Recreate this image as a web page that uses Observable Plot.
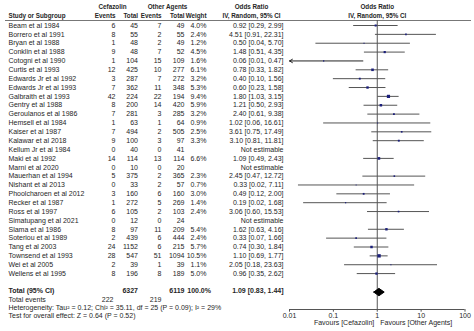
<!DOCTYPE html>
<html>
<head>
<meta charset="utf-8">
<script src="https://cdn.jsdelivr.net/npm/d3@7"></script>
<script src="https://cdn.jsdelivr.net/npm/@observablehq/plot@0.6"></script>
<style>
  html, body { margin: 0; padding: 0; background: #fff; }
  #chart svg { display: block; }
</style>
</head>
<body>
<div id="chart"></div>
<script>
// ---------- data ----------
const studies = ["Beam et al 1984","Borrero et al 1991","Bryan et al 1988","Conklin et al 1988","Cotogni et al 1990","Curtis et al 1993","Edwards Jr et al 1992","Edwards Jr et al 1993","Galbraith et al 1993","Gentry et al 1988","Geroulanos et al 1986","Hemsell et al 1984","Kaiser et al 1987","Kalawar et al 2018","Kellum Jr et al 1984","Maki et al 1992","Marni et al 2020","Mauerhan et al 1994","Nishant et al 2013","Phoolcharoen et al 2012","Recker et al 1987","Ross et al 1997","Simatupang et al 2021","Slama et al 1986","Soteriou et al 1989","Tang et al 2003","Townsend et al 1993","Wei et al 2005","Wellens et al 1995"];
const cefEvents = [6,8,1,9,1,12,3,7,42,8,7,1,7,9,0,14,0,5,0,3,1,6,0,8,2,24,28,2,8];
const cefTotal = [45,55,48,48,104,425,287,362,224,200,281,63,494,100,40,114,10,375,33,160,272,105,12,97,439,1152,547,39,196];
const otherEvents = [7,2,2,7,15,10,7,11,22,14,3,1,2,3,0,13,0,2,2,6,5,2,0,11,6,6,51,1,8];
const otherTotal = [49,55,49,52,109,277,272,348,194,420,285,64,505,97,41,114,20,365,57,160,269,103,24,209,444,215,1094,39,189];
const weights = [4.0,2.4,1.2,4.5,1.6,6.1,3.2,5.3,9.4,5.9,3.2,0.9,2.5,3.3,null,6.6,null,2.3,0.7,3.0,1.4,2.4,null,5.4,2.4,5.7,10.5,1.1,5.0];
const oddsRatio = [0.92,4.51,0.50,1.48,0.06,0.78,0.40,0.60,1.80,1.21,2.40,1.02,3.61,3.10,null,1.09,null,2.45,0.33,0.49,0.19,3.06,null,1.62,0.33,0.74,1.10,2.05,0.96];
const ciLow = [0.29,0.91,0.04,0.51,0.008,0.33,0.10,0.23,1.03,0.50,0.61,0.06,0.75,0.81,null,0.49,null,0.47,0.016,0.12,0.021,0.60,null,0.63,0.07,0.30,0.69,0.18,0.35];
const ciHigh = [2.99,22.31,5.70,4.35,0.47,1.82,1.56,1.58,3.15,2.93,9.38,16.61,17.49,11.81,null,2.43,null,12.72,7.11,2.00,1.68,15.53,null,4.16,1.66,1.84,1.77,23.63,2.62];
const totalLabels = {cefTotal: 6327, otherTotal: 6119, weight: "100.0%", cefEvents: 222, otherEvents: 219};
const pooled = {or: 1.09, lo: 0.83, hi: 1.44};
const heterogeneity = "Heterogeneity: Tau\u00b2 = 0.12; Chi\u00b2 = 35.11, df = 25 (P = 0.09); I\u00b2 = 29%";
const overallTest = "Test for overall effect: Z = 0.64 (P = 0.52)";
const axisTicks = [0.01, 0.1, 1, 10, 100];
const favours = ["Favours [Cefazolin]", "Favours [Other Agents]"];

// ---------- layout ----------
const W = 474, H = 331;
const mL = 5, mR = 4, mT = 20, mB = 22;
const rowTop = 25, rowStep = 8.86;
const rowOf = px => (px - rowTop) / rowStep;     // convert a layout pixel to row units
const col = {name: 8, cefE: 115, cefT: 137.5, othE: 161, othT: 184, weight: 206, weightTot: 210.5, orText: 283, orHead: 251, cefHead: 112, othHead: 167};
const dxOf = px => px - mL;
const f2 = d3.format(".2f");
const ink = "#262626";
const headSize = 6.3;

const rows = studies.map((s, i) => ({
  study: s, row: i,
  cefE: cefEvents[i], cefT: cefTotal[i], othE: otherEvents[i], othT: otherTotal[i],
  w: weights[i], or: oddsRatio[i], lo: ciLow[i], hi: ciHigh[i]
}));
const estimable = rows.filter(d => d.or != null);
const xMin = axisTicks[0], xMax = axisTicks[axisTicks.length - 1];
const inRange = estimable.filter(d => d.lo >= xMin);
const clipped = estimable.filter(d => d.lo < xMin);

const totalRow = rowOf(290.7);
const eventsRow = rowOf(298.9);
const hetRow = rowOf(307.2);
const testRow = rowOf(315.6);
const head1 = rowOf(6.3), head2 = rowOf(15.2);
const axisRow = rowOf(H - mB);
const tickLabRow = rowOf(315.3);
const favRow = rowOf(322.6);

const diamondH = 0.42;
const dRow = totalRow + 0.1;
const diamond = [
  {x: pooled.lo, y: dRow},
  {x: pooled.or, y: dRow - diamondH},
  {x: pooled.hi, y: dRow},
  {x: pooled.or, y: dRow + diamondH},
  {x: pooled.lo, y: dRow}
];

const T = (data, opts) => Plot.text(data, {fill: ink, frameAnchor: "left", ...opts});
const H1 = (y, text, px, anchor) => T(one, {y, text: () => text, dx: dxOf(px), textAnchor: anchor, fontWeight: "bold", fontSize: headSize});
const one = [0];

const chart = Plot.plot({
  width: W, height: H,
  marginLeft: mL, marginRight: mR, marginTop: mT, marginBottom: mB,
  style: {fontFamily: "'Liberation Sans', Arial, sans-serif", fontSize: "7px", background: "#fff", color: ink},
  x: {type: "log", domain: [xMin, xMax], range: [289, 464.5], axis: null},
  y: {type: "linear", domain: [0, 28], range: [rowTop, rowTop + 28 * rowStep], axis: null},
  r: {type: "sqrt", domain: [0, 10.5], range: [0, 1.9]},
  marks: [
    // header rule (top of frame)
    Plot.frame({anchor: "top", stroke: "#777", strokeWidth: 1}),
    // headers
    H1(head1, "Cefazolin", col.cefHead, "middle"),
    H1(head1, "Other Agents", col.othHead, "middle"),
    H1(head1, "Odds Ratio", col.orHead, "middle"),
    H1(head2, "Study or Subgroup", col.name, "start"),
    H1(head2, "Events", col.cefE, "end"),
    H1(head2, "Total", col.cefT, "end"),
    H1(head2, "Events", col.othE, "end"),
    H1(head2, "Total", col.othT, "end"),
    H1(head2, "Weight", col.weight, "end"),
    H1(head2, "IV, Random, 95% CI", col.orHead, "middle"),
    Plot.text(one, {x: 1, y: head1, text: () => "Odds Ratio", textAnchor: "middle", fontWeight: "bold", fontSize: headSize, fill: ink}),
    Plot.text(one, {x: 1, y: head2, text: () => "IV, Random, 95% CI", textAnchor: "middle", fontWeight: "bold", fontSize: headSize, fill: ink}),

    // study rows
    T(rows, {y: "row", text: "study", dx: dxOf(col.name), textAnchor: "start"}),
    T(rows, {y: "row", text: d => String(d.cefE), dx: dxOf(col.cefE), textAnchor: "end"}),
    T(rows, {y: "row", text: d => String(d.cefT), dx: dxOf(col.cefT), textAnchor: "end"}),
    T(rows, {y: "row", text: d => String(d.othE), dx: dxOf(col.othE), textAnchor: "end"}),
    T(rows, {y: "row", text: d => String(d.othT), dx: dxOf(col.othT), textAnchor: "end"}),
    T(rows, {y: "row", text: d => d.w == null ? "" : d.w.toFixed(1) + "%", dx: dxOf(col.weight), textAnchor: "end"}),
    T(rows, {y: "row", text: d => d.or == null ? "Not estimable" : `${f2(d.or)} [${f2(d.lo)}, ${f2(d.hi)}]`, dx: dxOf(col.orText), textAnchor: "end"}),

    // totals
    T(one, {y: totalRow, text: () => "Total (95% CI)", dx: dxOf(col.name), textAnchor: "start", fontWeight: "bold"}),
    T(one, {y: totalRow, text: () => String(totalLabels.cefTotal), dx: dxOf(col.cefT), textAnchor: "end", fontWeight: "bold"}),
    T(one, {y: totalRow, text: () => String(totalLabels.otherTotal), dx: dxOf(col.othT), textAnchor: "end", fontWeight: "bold"}),
    T(one, {y: totalRow, text: () => totalLabels.weight, dx: dxOf(col.weightTot), textAnchor: "end", fontWeight: "bold"}),
    T(one, {y: totalRow, text: () => `${f2(pooled.or)} [${f2(pooled.lo)}, ${f2(pooled.hi)}]`, dx: dxOf(col.orText), textAnchor: "end", fontWeight: "bold"}),
    T(one, {y: eventsRow, text: () => "Total events", dx: dxOf(col.name), textAnchor: "start"}),
    T(one, {y: eventsRow, text: () => String(totalLabels.cefEvents), dx: dxOf(col.cefE - 2), textAnchor: "end"}),
    T(one, {y: eventsRow, text: () => String(totalLabels.otherEvents), dx: dxOf(col.othE), textAnchor: "end"}),
    T(one, {y: hetRow, text: () => heterogeneity, dx: dxOf(col.name), textAnchor: "start"}),
    T(one, {y: testRow, text: () => overallTest, dx: dxOf(col.name), textAnchor: "start"}),

    // null line
    Plot.ruleX([1], {stroke: "#555", strokeWidth: 1}),

    // confidence intervals
    Plot.ruleY(inRange, {y: "row", x1: "lo", x2: "hi", stroke: "#555", strokeWidth: 1}),
    Plot.arrow(clipped, {x1: "hi", x2: () => xMin, y1: "row", y2: "row", stroke: "#222", strokeWidth: 1, headLength: 5, bend: 0}),
    Plot.dot(estimable, {x: "or", y: "row", r: "w", symbol: "square", fill: "#1b1f7a", stroke: null}),

    // pooled diamond
    Plot.line(diamond, {x: "x", y: "y", fill: "#000", stroke: "#000", strokeWidth: 1}),

    // axis
    Plot.ruleY(one, {y: axisRow, x1: () => xMin, x2: () => xMax, stroke: "#555", strokeWidth: 1}),
    Plot.ruleX(axisTicks, {x: d => d, y1: axisRow, y2: axisRow + 0.3, stroke: "#555", strokeWidth: 1}),
    Plot.text(axisTicks, {x: d => d, y: tickLabRow, text: d => String(d), fill: ink,
      textAnchor: (d, i) => i === 0 ? "start" : i === axisTicks.length - 1 ? "end" : "middle"}),
    Plot.text(one, {x: 1, y: favRow, text: () => favours[0], dx: -3, textAnchor: "end", fill: ink}),
    Plot.text(one, {x: 1, y: favRow, text: () => favours[1], dx: 3, textAnchor: "start", fill: ink})
  ]
});
document.getElementById("chart").appendChild(chart);
</script>
</body>
</html>
